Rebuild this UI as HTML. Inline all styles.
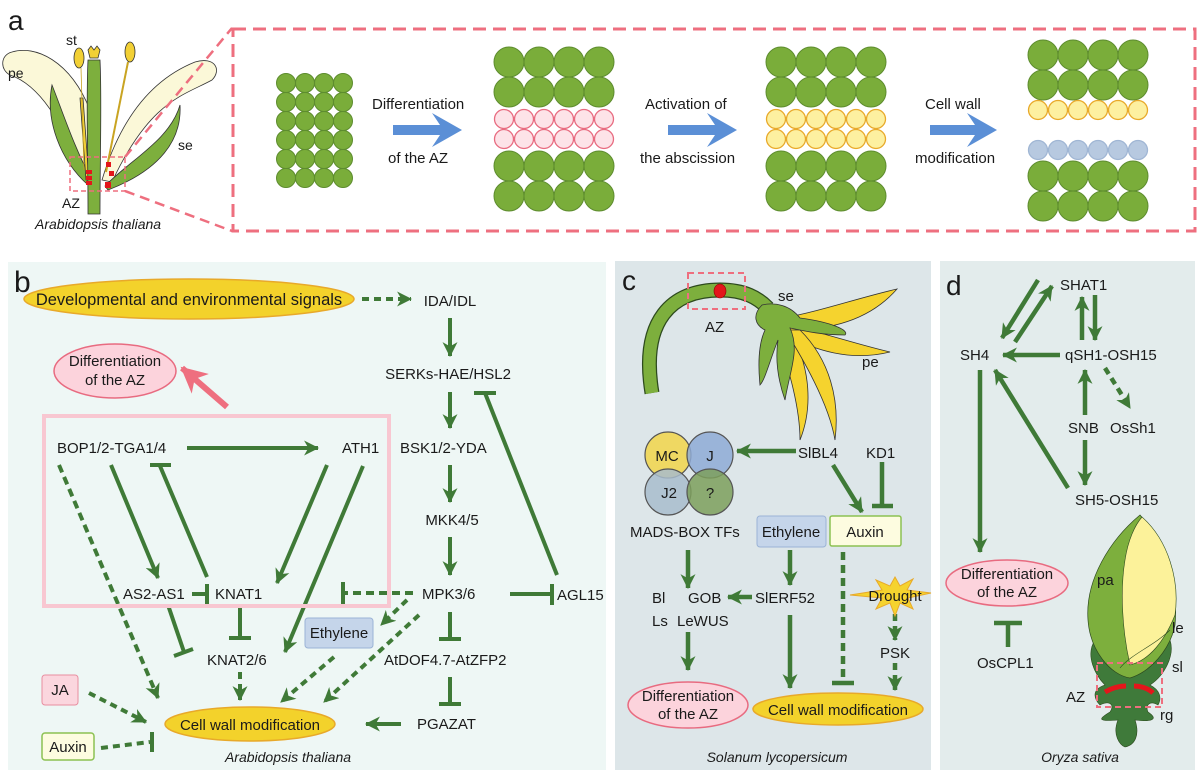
<!DOCTYPE html>
<html><head><meta charset="utf-8">
<style>
html,body{margin:0;padding:0;background:#fff;}
svg{display:block;font-family:"Liberation Sans",Arial,sans-serif;}
text{fill:#1a1a1a;}
</style></head>
<body>
<svg width="1200" height="774" viewBox="0 0 1200 774" xmlns="http://www.w3.org/2000/svg">
<defs>
<marker id="ah" viewBox="0 0 14 14" refX="13" refY="7" markerWidth="15" markerHeight="15" markerUnits="userSpaceOnUse" orient="auto">
<path d="M0,0 L14,7 L0,14 L4,7 z" fill="#3f7a37"/></marker>
<marker id="ahp" viewBox="0 0 14 14" refX="13" refY="7" markerWidth="26" markerHeight="26" markerUnits="userSpaceOnUse" orient="auto">
<path d="M0,0 L14,7 L0,14 L4,7 z" fill="#ee6f7f"/></marker>
<g id="g1row"><circle cx="286" cy="83" r="9.5"/><circle cx="305" cy="83" r="9.5"/><circle cx="324" cy="83" r="9.5"/><circle cx="343" cy="83" r="9.5"/></g>
<g id="bigrow"><circle cx="0" cy="0" r="15"/><circle cx="30" cy="0" r="15"/><circle cx="60" cy="0" r="15"/><circle cx="90" cy="0" r="15"/></g>
<g id="smallrow"><circle cx="0" cy="0" r="9.5"/><circle cx="20" cy="0" r="9.5"/><circle cx="40" cy="0" r="9.5"/><circle cx="60" cy="0" r="9.5"/><circle cx="80" cy="0" r="9.5"/><circle cx="100" cy="0" r="9.5"/></g>
</defs>

<!-- ===== Panel a ===== -->
<text x="8" y="30" font-size="28">a</text>
<g stroke="#333" stroke-width="0.8">
<path d="M88,180 C60,120 40,85 10,75 C0,70 0,55 12,52 C35,45 70,60 90,110 Z" fill="#fbf8d8"/>
<path d="M102,180 C120,120 150,80 195,62 C215,56 222,70 212,80 C185,95 150,100 112,182 Z" fill="#fbf8d8"/>
<path d="M88,185 C60,160 45,120 52,85 C62,110 75,150 92,180 Z" fill="#7daf3d"/>
<path d="M105,186 C130,160 170,140 180,105 C182,140 160,170 108,190 Z" fill="#7daf3d"/>
<path d="M80,98 L86,180 L89,180 L83,98 Z" fill="#f2d035"/>
<ellipse cx="79" cy="58" rx="5" ry="10" fill="#f2d035"/>
<path d="M81,68 L84,170" stroke="#c9a422" fill="none"/>
<ellipse cx="130" cy="52" rx="5" ry="10" fill="#f2d035"/>
<path d="M128,62 L106,172" stroke="#c9a422" fill="none" stroke-width="2"/>
<path d="M88,60 C86,100 88,150 88,214 L100,214 C100,150 102,100 100,60 Z" fill="#7daf3d"/>
<path d="M88,50 L91,46 L94,50 L97,46 L100,50 L98,58 L90,58 Z" fill="#f2d035"/>
</g>
<rect x="86" y="170" width="6" height="4" fill="#e3161b"/><rect x="86" y="176" width="6" height="4" fill="#e3161b"/><rect x="86" y="181" width="6" height="4" fill="#e3161b"/>
<rect x="106" y="162" width="5" height="5" fill="#e3161b"/><rect x="109" y="171" width="5" height="5" fill="#e3161b"/><rect x="105" y="182" width="6" height="6" fill="#e3161b"/>
<rect x="70" y="157" width="55" height="34" fill="none" stroke="#ee6f7f" stroke-width="1.5" stroke-dasharray="5,3"/>
<text x="8" y="78" font-size="14">pe</text>
<text x="66" y="45" font-size="14">st</text>
<text x="178" y="150" font-size="14">se</text>
<text x="62" y="208" font-size="14">AZ</text>
<text x="35" y="229" font-size="14" font-style="italic">Arabidopsis thaliana</text>
<line x1="125" y1="157" x2="232" y2="28" stroke="#ee6f7f" stroke-width="2.5" stroke-dasharray="10,6"/>
<line x1="125" y1="191" x2="232" y2="231" stroke="#ee6f7f" stroke-width="2.5" stroke-dasharray="10,6"/>
<rect x="233" y="29" width="962" height="202" fill="none" stroke="#ee6f7f" stroke-width="3" stroke-dasharray="13,7"/>

<g fill="#7aad3a" stroke="#5d8c2e" stroke-width="1">
<use href="#g1row"/><use href="#g1row" y="19"/><use href="#g1row" y="38"/><use href="#g1row" y="57"/><use href="#g1row" y="76"/><use href="#g1row" y="95"/>
<use href="#bigrow" x="509" y="62"/><use href="#bigrow" x="509" y="92"/><use href="#bigrow" x="509" y="166"/><use href="#bigrow" x="509" y="196"/>
<use href="#bigrow" x="781" y="62"/><use href="#bigrow" x="781" y="92"/><use href="#bigrow" x="781" y="166"/><use href="#bigrow" x="781" y="196"/>
<use href="#bigrow" x="1043" y="55"/><use href="#bigrow" x="1043" y="85"/><use href="#bigrow" x="1043" y="176"/><use href="#bigrow" x="1043" y="206"/>
</g>
<g fill="#fde3e8" stroke="#e86b80" stroke-width="1.3"><use href="#smallrow" x="504" y="119"/><use href="#smallrow" x="504" y="139"/></g>
<g fill="#fdf0a0" stroke="#e8a92a" stroke-width="1.3"><use href="#smallrow" x="776" y="119"/><use href="#smallrow" x="776" y="139"/><use href="#smallrow" x="1038" y="110"/></g>
<g fill="#b7c9e0" stroke="#a0b6d4" stroke-width="1.3"><use href="#smallrow" x="1038" y="150"/></g>

<g fill="#5b8fd6">
<polygon points="393,125 440,125 432,113 462,130 432,147 440,135 393,135"/>
<polygon points="668,125 715,125 707,113 737,130 707,147 715,135 668,135"/>
<polygon points="930,125 975,125 967,113 997,130 967,147 975,135 930,135"/>
</g>
<g font-size="15">
<text x="372" y="109">Differentiation</text><text x="388" y="163">of the AZ</text>
<text x="645" y="109">Activation of</text><text x="640" y="163">the abscission</text>
<text x="925" y="109">Cell wall</text><text x="915" y="163">modification</text>
</g>

<!-- ===== Panel backgrounds ===== -->
<rect x="8" y="262" width="598" height="508" fill="#eef7f5"/>
<rect x="615" y="261" width="316" height="509" fill="#dde6e9"/>
<rect x="940" y="261" width="255" height="509" fill="#e3ecec"/>

<!-- ===== Panel b ===== -->
<text x="14" y="292" font-size="30">b</text>
<ellipse cx="189" cy="299" rx="165" ry="20" fill="#f3d22b" stroke="#e8a92a" stroke-width="1.5"/>
<text x="189" y="305" font-size="16.5" text-anchor="middle">Developmental and environmental signals</text>
<g stroke="#3f7a37" stroke-width="4" fill="none">
<line x1="362" y1="299" x2="411" y2="299" stroke-dasharray="7,5" marker-end="url(#ah)"/>
<line x1="450" y1="318" x2="450" y2="356" marker-end="url(#ah)"/>
<line x1="450" y1="392" x2="450" y2="428" marker-end="url(#ah)"/>
<line x1="450" y1="465" x2="450" y2="502" marker-end="url(#ah)"/>
<line x1="450" y1="537" x2="450" y2="575" marker-end="url(#ah)"/>
<line x1="557" y1="575" x2="485" y2="393"/><line x1="474" y1="393" x2="496" y2="393"/>
<line x1="510" y1="594" x2="551" y2="594"/><line x1="552" y1="584" x2="552" y2="605"/>
<line x1="413" y1="593" x2="344" y2="593" stroke-dasharray="8,5"/><line x1="343" y1="582" x2="343" y2="604"/>
<line x1="450" y1="612" x2="450" y2="638"/><line x1="439" y1="639" x2="461" y2="639"/>
<line x1="450" y1="677" x2="450" y2="703"/><line x1="439" y1="704" x2="461" y2="704"/>
<line x1="401" y1="724" x2="366" y2="724" marker-end="url(#ah)"/>
<line x1="187" y1="448" x2="318" y2="448" marker-end="url(#ah)"/>
<line x1="59" y1="465" x2="158" y2="698" stroke-dasharray="8,5" marker-end="url(#ah)"/>
<line x1="111" y1="465" x2="158" y2="578" marker-end="url(#ah)"/>
<line x1="207" y1="577" x2="160" y2="466"/><line x1="150" y1="465" x2="171" y2="465"/>
<line x1="327" y1="465" x2="277" y2="583" marker-end="url(#ah)"/>
<line x1="363" y1="466" x2="285" y2="652" marker-end="url(#ah)"/>
<line x1="192" y1="594" x2="206" y2="594"/><line x1="207" y1="584" x2="207" y2="604"/>
<line x1="240" y1="608" x2="240" y2="637"/><line x1="229" y1="638" x2="251" y2="638"/>
<line x1="168" y1="605" x2="184" y2="652"/><line x1="174" y1="656" x2="193" y2="649"/>
<line x1="240" y1="672" x2="240" y2="700" stroke-dasharray="7,5" marker-end="url(#ah)"/>
<line x1="407" y1="600" x2="381" y2="625" stroke-dasharray="7,5" marker-end="url(#ah)"/>
<line x1="334" y1="657" x2="281" y2="702" stroke-dasharray="7,5" marker-end="url(#ah)"/>
<line x1="419" y1="615" x2="324" y2="702" stroke-dasharray="7,5" marker-end="url(#ah)"/>
<line x1="89" y1="693" x2="146" y2="722" stroke-dasharray="7,5" marker-end="url(#ah)"/>
<line x1="101" y1="748" x2="150" y2="742" stroke-dasharray="7,5"/><line x1="152" y1="732" x2="152" y2="752"/>
</g>
<line x1="227" y1="407" x2="182" y2="368" stroke="#ee6f7f" stroke-width="6" marker-end="url(#ahp)"/>
<ellipse cx="115" cy="371" rx="61" ry="27" fill="#fcd3dc" stroke="#e86b80" stroke-width="1.5"/>
<text x="115" y="366" font-size="15" text-anchor="middle">Differentiation</text>
<text x="115" y="385" font-size="15" text-anchor="middle">of the AZ</text>
<rect x="44" y="416" width="345" height="190" fill="none" stroke="#f8c7d1" stroke-width="4"/>
<g font-size="15">
<text x="450" y="306" text-anchor="middle">IDA/IDL</text>
<text x="448" y="379" text-anchor="middle">SERKs-HAE/HSL2</text>
<text x="57" y="453">BOP1/2-TGA1/4</text>
<text x="342" y="453">ATH1</text>
<text x="400" y="453">BSK1/2-YDA</text>
<text x="452" y="525" text-anchor="middle">MKK4/5</text>
<text x="422" y="599">MPK3/6</text>
<text x="557" y="600">AGL15</text>
<text x="123" y="599">AS2-AS1</text>
<text x="215" y="599">KNAT1</text>
<text x="207" y="665">KNAT2/6</text>
<text x="384" y="665">AtDOF4.7-AtZFP2</text>
<text x="417" y="729">PGAZAT</text>
</g>
<rect x="305" y="618" width="68" height="30" rx="3" fill="#c5d5ea" stroke="#9bb3d6"/>
<text x="339" y="638" font-size="15" text-anchor="middle">Ethylene</text>
<ellipse cx="250" cy="724" rx="85" ry="17" fill="#f3d22b" stroke="#e8a92a" stroke-width="1.5"/>
<text x="250" y="730" font-size="15" text-anchor="middle">Cell wall modification</text>
<rect x="42" y="675" width="36" height="30" rx="3" fill="#fbd6de" stroke="#e88ea0"/>
<text x="60" y="695" font-size="15" text-anchor="middle">JA</text>
<rect x="42" y="733" width="52" height="27" rx="3" fill="#fdfce0" stroke="#8cc152" stroke-width="1.5"/>
<text x="68" y="752" font-size="15" text-anchor="middle">Auxin</text>
<text x="288" y="762" font-size="14" font-style="italic" text-anchor="middle">Arabidopsis thaliana</text>

<!-- ===== Panel c ===== -->
<text x="622" y="290" font-size="28">c</text>
<path d="M652,393 C640,320 672,290 720,290 C745,290 758,298 768,308" fill="none" stroke="#2d4a1e" stroke-width="15"/>
<path d="M652,393 C640,320 672,290 720,290 C745,290 758,298 768,308" fill="none" stroke="#7daf3d" stroke-width="12.5"/>
<g stroke="#333" stroke-width="0.8">
<path d="M770,320 C810,315 850,300 897,289 C870,320 830,330 790,330 Z" fill="#f5d32e"/>
<path d="M790,325 C830,335 860,345 890,352 C850,362 815,350 785,335 Z" fill="#f5d32e"/>
<path d="M775,330 C790,370 800,410 800,440 C812,410 812,370 790,330 Z" fill="#f5d32e"/>
<path d="M785,330 C810,370 830,410 835,440 C840,400 830,360 800,330 Z" fill="#f5d32e"/>
<path d="M762,305 C775,302 790,305 800,318 C830,322 850,330 845,335 C820,335 800,330 790,328 C800,350 790,370 785,400 C778,380 775,360 778,340 C770,360 765,380 760,385 C758,365 758,345 765,330 C755,325 752,315 762,305 Z" fill="#7daf3d"/>
</g>
<ellipse cx="720" cy="291" rx="6" ry="7" fill="#e3161b" stroke="#8a0000" stroke-width="0.6"/>
<rect x="688" y="273" width="57" height="36" fill="none" stroke="#ee6f7f" stroke-width="2" stroke-dasharray="6,4"/>
<text x="705" y="332" font-size="15">AZ</text>
<text x="778" y="301" font-size="15">se</text>
<text x="862" y="367" font-size="15">pe</text>
<g stroke="#555" stroke-width="1.2" fill-opacity="0.85">
<circle cx="668" cy="455" r="23" fill="#f2d54a"/>
<circle cx="710" cy="455" r="23" fill="#8eaad6"/>
<circle cx="668" cy="492" r="23" fill="#a8bccd"/>
<circle cx="710" cy="492" r="23" fill="#7c9f5c"/>
</g>
<g font-size="15">
<text x="667" y="461" text-anchor="middle">MC</text>
<text x="710" y="461" text-anchor="middle">J</text>
<text x="669" y="498" text-anchor="middle">J2</text>
<text x="710" y="498" text-anchor="middle">?</text>
<text x="798" y="458">SlBL4</text>
<text x="866" y="458">KD1</text>
<text x="630" y="537">MADS-BOX TFs</text>
<text x="652" y="603">Bl</text>
<text x="688" y="603">GOB</text>
<text x="652" y="626">Ls</text>
<text x="677" y="626">LeWUS</text>
<text x="755" y="603">SlERF52</text>
<text x="895" y="658" text-anchor="middle">PSK</text>
</g>
<rect x="757" y="516" width="69" height="31" rx="3" fill="#c5d5ea" stroke="#9bb3d6"/>
<text x="791" y="537" font-size="15" text-anchor="middle">Ethylene</text>
<rect x="830" y="516" width="71" height="30" rx="2" fill="#fdfce0" stroke="#8cc152" stroke-width="1.5"/>
<text x="865" y="537" font-size="15" text-anchor="middle">Auxin</text>
<g stroke="#3f7a37" stroke-width="4.5" fill="none">
<line x1="796" y1="451" x2="737" y2="451" marker-end="url(#ah)"/>
<line x1="833" y1="465" x2="862" y2="512" marker-end="url(#ah)"/>
<line x1="882" y1="462" x2="882" y2="505"/><line x1="872" y1="506" x2="893" y2="506"/>
<line x1="688" y1="550" x2="688" y2="588" marker-end="url(#ah)"/>
<line x1="790" y1="550" x2="790" y2="585" marker-end="url(#ah)"/>
<line x1="752" y1="597" x2="728" y2="597" marker-end="url(#ah)"/>
<line x1="790" y1="615" x2="790" y2="688" marker-end="url(#ah)"/>
<line x1="688" y1="632" x2="688" y2="670" marker-end="url(#ah)"/>
<line x1="843" y1="552" x2="843" y2="682" stroke-dasharray="8,5"/><line x1="832" y1="683" x2="854" y2="683"/>
<line x1="895" y1="614" x2="895" y2="640" stroke-dasharray="7,5" marker-end="url(#ah)"/>
<line x1="895" y1="663" x2="895" y2="690" stroke-dasharray="7,5" marker-end="url(#ah)"/>
</g>
<polygon points="895,577 900,586 913,579 907,590 931,593 908,598 913,609 900,603 895,616 890,603 876,609 882,598 850,595 882,590 876,580 890,586" fill="#f5d32e" stroke="#e8a92a" stroke-width="1"/>
<text x="895" y="601" font-size="15" text-anchor="middle">Drought</text>
<ellipse cx="688" cy="705" rx="60" ry="23" fill="#fcd3dc" stroke="#e86b80" stroke-width="1.5"/>
<text x="688" y="701" font-size="15" text-anchor="middle">Differentiation</text>
<text x="688" y="719" font-size="15" text-anchor="middle">of the AZ</text>
<ellipse cx="838" cy="709" rx="85" ry="16" fill="#f3d22b" stroke="#e8a92a" stroke-width="1.5"/>
<text x="838" y="715" font-size="15" text-anchor="middle">Cell wall modification</text>
<text x="777" y="762" font-size="14" font-style="italic" text-anchor="middle">Solanum lycopersicum</text>

<!-- ===== Panel d ===== -->
<text x="946" y="295" font-size="28">d</text>
<g font-size="15">
<text x="1060" y="290">SHAT1</text>
<text x="960" y="360">SH4</text>
<text x="1065" y="360">qSH1-OSH15</text>
<text x="1068" y="433">SNB</text>
<text x="1110" y="433">OsSh1</text>
<text x="1075" y="505">SH5-OSH15</text>
<text x="977" y="668">OsCPL1</text>
</g>
<g stroke="#3f7a37" stroke-width="4.5" fill="none">
<line x1="1038" y1="280" x2="1002" y2="338" marker-end="url(#ah)"/>
<line x1="1015" y1="342" x2="1052" y2="286" marker-end="url(#ah)"/>
<line x1="1082" y1="340" x2="1082" y2="297" marker-end="url(#ah)"/>
<line x1="1095" y1="295" x2="1095" y2="340" marker-end="url(#ah)"/>
<line x1="1060" y1="355" x2="1003" y2="355" marker-end="url(#ah)"/>
<line x1="1085" y1="415" x2="1085" y2="370" marker-end="url(#ah)"/>
<line x1="1085" y1="440" x2="1085" y2="485" marker-end="url(#ah)"/>
<line x1="1105" y1="368" x2="1130" y2="408" stroke-dasharray="7,5" marker-end="url(#ah)"/>
<line x1="1068" y1="488" x2="995" y2="370" marker-end="url(#ah)"/>
<line x1="980" y1="370" x2="980" y2="552" marker-end="url(#ah)"/>
<line x1="1008" y1="624" x2="1008" y2="647"/><line x1="994" y1="623" x2="1022" y2="623"/>
</g>
<ellipse cx="1007" cy="583" rx="61" ry="23" fill="#fcd3dc" stroke="#e86b80" stroke-width="1.5"/>
<text x="1007" y="579" font-size="15" text-anchor="middle">Differentiation</text>
<text x="1007" y="597" font-size="15" text-anchor="middle">of the AZ</text>
<path d="M1095,640 C1085,655 1095,675 1105,685 C1090,690 1095,700 1100,705 C1110,700 1115,705 1110,712 C1100,718 1095,722 1118,720 C1112,735 1120,745 1125,747 C1135,745 1140,735 1135,720 C1150,722 1160,720 1148,712 C1145,705 1150,700 1158,705 C1162,698 1160,690 1150,685 C1165,675 1175,655 1170,640 C1160,655 1150,665 1130,668 C1115,665 1105,655 1095,640 Z" fill="#3f7a3a" stroke="#2d4a1e" stroke-width="0.6"/>
<path d="M1140,515 C1110,540 1085,580 1088,620 C1090,650 1110,675 1130,678 C1150,672 1170,650 1175,625 C1178,595 1170,550 1140,515 Z" fill="#7daf3d" stroke="#2d4a1e" stroke-width="0.7"/>
<path d="M1142,517 C1168,540 1180,580 1175,615 C1165,640 1150,660 1130,665 C1122,630 1120,590 1125,560 C1128,540 1135,525 1142,517 Z" fill="#fcf29a" stroke="#2d4a1e" stroke-width="0.6"/>
<path d="M1120,668 C1130,655 1155,645 1170,630" fill="none" stroke="#2d4a1e" stroke-width="0.6"/>
<path d="M1105,692 C1112,688 1120,686 1126,686" fill="none" stroke="#e3161b" stroke-width="5"/>
<path d="M1134,686 C1140,686 1148,688 1153,693" fill="none" stroke="#e3161b" stroke-width="5"/>
<rect x="1097" y="663" width="65" height="44" fill="none" stroke="#ee6f7f" stroke-width="2" stroke-dasharray="6,4"/>
<g font-size="15">
<text x="1097" y="585">pa</text>
<text x="1172" y="633">le</text>
<text x="1172" y="672">sl</text>
<text x="1066" y="702">AZ</text>
<text x="1160" y="720">rg</text>
</g>
<text x="1080" y="762" font-size="14" font-style="italic" text-anchor="middle">Oryza sativa</text>
</svg>
</body></html>
